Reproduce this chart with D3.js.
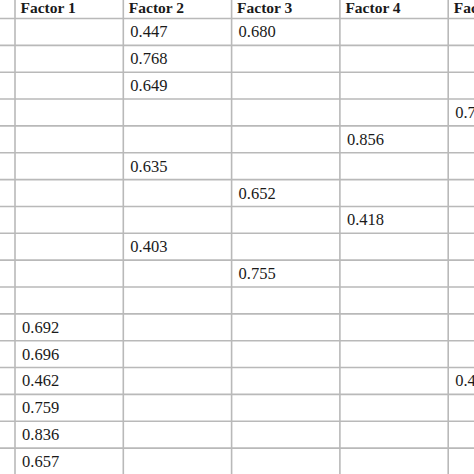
<!DOCTYPE html>
<html><head><meta charset="utf-8">
<script src="https://cdn.jsdelivr.net/npm/d3@7"></script>
<style>html,body{margin:0;padding:0;background:#fff;overflow:hidden}</style>
</head><body><svg id="chart" width="474" height="474"></svg>
<script>
// column headers and loadings (null = blank cell); the table is cropped at both sides
var headers = ['Factor 1', 'Factor 2', 'Factor 3', 'Factor 4', 'Factor 5'];
var factor1 = [null, null, null, null, null, null, null, null, null, null, null, '0.692', '0.696', '0.462', '0.759', '0.836', '0.657'];
var factor2 = ['0.447', '0.768', '0.649', null, null, '0.635', null, null, '0.403', null, null, null, null, null, null, null, null];
var factor3 = ['0.680', null, null, null, null, null, '0.652', null, null, '0.755', null, null, null, null, null, null, null];
var factor4 = [null, null, null, null, '0.856', null, null, '0.418', null, null, null, null, null, null, null, null, null];
var factor5 = [null, null, null, '0.712', null, null, null, null, null, null, null, null, null, '0.468', null, null, null];
var columns = [factor1, factor2, factor3, factor4, factor5];

var svg = d3.select('#chart');
var nRows = factor1.length;

/* column lines at 15, 123.3, ... ; row lines start under the header */
var x = d3.scaleLinear().domain([0, 1]).range([15, 123.3]);
var y = d3.scaleLinear().domain([0, 1]).range([18.5, 45.35]);
var lineColor = '#b9b9b9';

// horizontal rules
svg.selectAll('.hline').data(d3.range(nRows + 1)).enter().append('line')
  .attr('x1', 0).attr('x2', 474)
  .attr('y1', d => y(d)).attr('y2', d => y(d))
  .attr('stroke', lineColor).attr('stroke-width', 1.6);

// vertical rules
svg.selectAll('.vline').data(d3.range(headers.length)).enter().append('line')
  .attr('x1', d => x(d)).attr('x2', d => x(d))
  .attr('y1', 0).attr('y2', 474)
  .attr('stroke', lineColor).attr('stroke-width', 1.6);

// header
svg.selectAll('.head').data(headers).enter().append('text')
  .attr('x', (d, i) => x(i) + 5.5).attr('y', 13)
  .attr('font-family', 'Liberation Serif, serif').attr('font-weight', 'bold')
  .attr('font-size', 15.5).attr('fill', '#1a1a1a')
  .text(d => d);

// cells
columns.forEach(function(col, c){
  var cells = col.map((v, i) => ({ v: v, i: i })).filter(d => d.v != null);
  svg.selectAll('.cell' + c).data(cells).enter().append('text')
    .attr('x', x(c) + 7).attr('y', d => y(d.i + 0.5) + 5.5)
    .attr('font-family', 'Liberation Serif, serif')
    .attr('font-size', 16.5).attr('fill', '#1a1a1a')
    .text(d => d.v);
});
</script></body></html>
